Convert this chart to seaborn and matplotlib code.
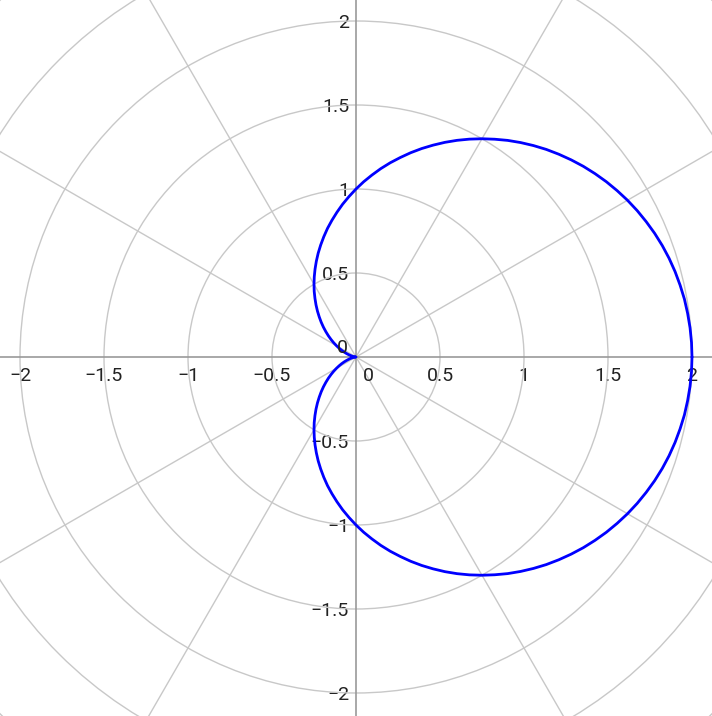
import numpy as np
import pandas as pd
import matplotlib
matplotlib.use("Agg")
import matplotlib.pyplot as plt
import seaborn as sns
from matplotlib.patches import Circle

# radius of the curve read at every 2.5 degrees, 0..180 (lower half is the mirror)
angles_deg = [i * 2.5 for i in range(73)]
radius = [2.000, 1.999, 1.996, 1.991, 1.985, 1.976, 1.966, 1.954, 1.940, 1.924,
          1.906, 1.887, 1.866, 1.843, 1.819, 1.793, 1.766, 1.737, 1.707, 1.676,
          1.643, 1.609, 1.574, 1.537, 1.500, 1.462, 1.423, 1.383, 1.342, 1.301,
          1.259, 1.216, 1.174, 1.131, 1.087, 1.044, 1.000, 0.956, 0.913, 0.869,
          0.826, 0.784, 0.741, 0.699, 0.658, 0.617, 0.577, 0.538, 0.500, 0.463,
          0.426, 0.391, 0.357, 0.324, 0.293, 0.263, 0.234, 0.207, 0.181, 0.157,
          0.134, 0.113, 0.094, 0.076, 0.060, 0.046, 0.034, 0.024, 0.015, 0.009,
          0.004, 0.001, 0.000]

grid_radii = [0.5, 1.0, 1.5, 2.0, 2.5, 3.0]
grid_angles = [30, 60, 120, 150, 210, 240, 300, 330]
tick_values = [-2, -1.5, -1, -0.5, 0.5, 1, 1.5, 2]
tick_labels = ["−2", "−1.5", "−1", "−0.5", "0.5", "1", "1.5", "2"]

full_angles = angles_deg + [360 - a for a in angles_deg[::-1][1:]]
full_radius = radius + radius[::-1][1:]
theta = np.radians(full_angles)
df = pd.DataFrame({
    "x": np.array(full_radius) * np.cos(theta),
    "y": np.array(full_radius) * np.sin(theta),
})

sns.set_theme(style="white")
plt.rcParams["font.family"] = ["Roboto", "DejaVu Sans"]

fig = plt.figure(figsize=(7.12, 7.16), dpi=100)
ax = fig.add_axes([0, 0, 1, 1])
ax.set_xlim(-356 / 168, 356 / 168)
ax.set_ylim(-359 / 168, 357 / 168)

grid_color = "#c8c8c8"
for r in grid_radii:
    ax.add_patch(Circle((0, 0), r, fill=False, ec=grid_color, lw=1, zorder=1))
for a in grid_angles:
    t = np.radians(a)
    ax.plot([0, 4 * np.cos(t)], [0, 4 * np.sin(t)], color=grid_color, lw=1, zorder=1)

sns.lineplot(data=df, x="x", y="y", sort=False, estimator=None, color="#0000ff",
             lw=2, ax=ax, zorder=3)

for side in ["top", "right"]:
    ax.spines[side].set_visible(False)
for side in ["left", "bottom"]:
    ax.spines[side].set_position("zero")
    ax.spines[side].set_color("#999999")
    ax.spines[side].set_linewidth(1.2)
    ax.spines[side].set_zorder(2)

ax.set_xticks(tick_values)
ax.set_xticklabels(tick_labels)
ax.set_yticks(tick_values)
ax.set_yticklabels(tick_labels)
ax.tick_params(axis="both", length=0, labelsize=14, colors="#222222")
ax.tick_params(axis="x", pad=7)
ax.tick_params(axis="y", pad=5)
ax.text(12 / 168, -10 / 168, "0", ha="center", va="top", fontsize=14, color="#222222")
ax.text(-8 / 168, 0, "0", ha="right", va="bottom", fontsize=14, color="#222222")
ax.set_xlabel("")
ax.set_ylabel("")

fig.savefig("out.png", dpi=100)
